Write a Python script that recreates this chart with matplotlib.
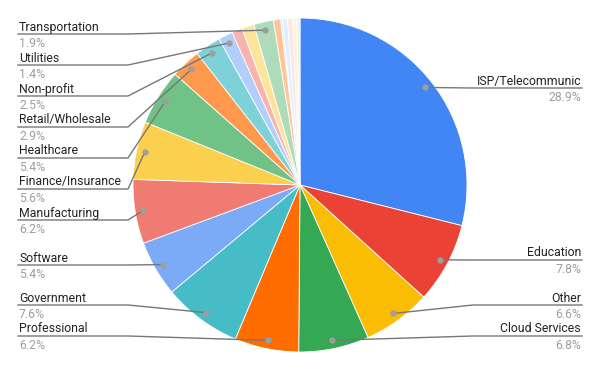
import numpy as np
import matplotlib
matplotlib.use('Agg')
import matplotlib.pyplot as plt

plt.rcParams['font.family'] = ['Roboto', 'DejaVu Sans']

# slices, clockwise from 12 o'clock
sectors = ['ISP/Telecommunic', 'Education', 'Other', 'Cloud Services', 'Professional',
           'Government', 'Software', 'Manufacturing', 'Finance/Insurance', 'Healthcare',
           'Retail/Wholesale', 'Non-profit', 'Utilities', '', '', 'Transportation',
           '', '', '', '', '', '']
shares = [28.9, 7.8, 6.6, 6.8, 6.2, 7.6, 5.4, 6.2, 5.6, 5.4, 2.9, 2.5, 1.4,
          1.0, 1.2, 1.9, 0.7, 0.15, 0.5, 0.5, 0.4, 0.3]
pct_labels = ['28.9%', '7.8%', '6.6%', '6.8%', '6.2%', '7.6%', '5.4%', '6.2%', '5.6%',
              '5.4%', '2.9%', '2.5%', '1.4%', '', '', '1.9%', '', '', '', '', '', '']
colors = ['#4285f4', '#ea4335', '#fbbc04', '#34a853', '#ff6d01', '#46bdc6', '#7baaf7',
          '#f07b72', '#fcd04f', '#71c287', '#ff994d', '#7ed1d7', '#b3cefb', '#f7b4ae',
          '#fde49b', '#aedcba', '#ffc599', '#b5e5e8', '#e3edfd', '#fde6e4', '#fff3d6',
          '#e6f4ea']

# label rows (pixel y of the leader line, from top) and side
label_rows = {'ISP/Telecommunic': (88, 'R'), 'Education': (260, 'R'), 'Other': (305, 'R'),
              'Cloud Services': (336, 'R'), 'Professional': (336, 'L'),
              'Government': (305, 'L'), 'Software': (265, 'L'), 'Manufacturing': (220, 'L'),
              'Finance/Insurance': (189, 'L'), 'Healthcare': (158, 'L'),
              'Retail/Wholesale': (127, 'L'), 'Non-profit': (96, 'L'),
              'Utilities': (65, 'L'), 'Transportation': (34, 'L')}

W, H = 600, 371
fig = plt.figure(figsize=(6, 3.71), dpi=100)
ax = fig.add_axes([0, 0, 1, 1])

cx, cy, R = 300, H - 185, 167
wedges, _ = ax.pie(shares, colors=colors, startangle=90, counterclock=False,
                   center=(cx, cy), radius=R,
                   wedgeprops=dict(linewidth=0.6, edgecolor='white'))
ax.set_xlim(0, W)
ax.set_ylim(0, H)
ax.set_aspect('equal')
ax.axis('off')

line_c = '#777777'
for w, name, pct in zip(wedges, sectors, pct_labels):
    if not name:
        continue
    mid = np.deg2rad((w.theta1 + w.theta2) / 2)
    dx = cx + 0.95 * R * np.cos(mid)
    dy = cy + 0.95 * R * np.sin(mid)
    ly, side = label_rows[name]
    ly = H - ly
    if side == 'L':
        ax.plot([18, 128, dx], [ly, ly, dy], color=line_c, lw=1, zorder=3)
        x0, ha = 19, 'left'
    else:
        ax.plot([582, 473, dx], [ly, ly, dy], color=line_c, lw=1, zorder=3)
        x0, ha = 581, 'right'
    ax.plot(dx, dy, 'o', color='#9e9e9e', ms=3.5, zorder=4)
    ax.text(x0, ly + 3.5, name, ha=ha, va='baseline', fontsize=8.8, color='#222222')
    ax.text(x0, ly - 13, pct, ha=ha, va='baseline', fontsize=8.8, color='#9e9e9e')

fig.savefig('out.png', dpi=100)
